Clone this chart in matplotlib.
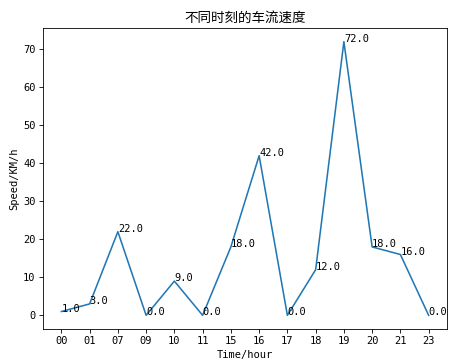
import matplotlib
matplotlib.use("Agg")
import matplotlib.pyplot as plt

plt.rcParams['font.family'] = ['DejaVu Sans Mono', 'Noto Sans CJK SC']
plt.rcParams['axes.unicode_minus'] = False

hours = ["00", "01", "07", "09", "10", "11", "15", "16", "17", "18", "19", "20", "21", "23"]
speeds = [1, 3, 22, 0, 9, 0, 18, 42, 0, 12, 72, 18, 16, 0]

fig = plt.figure(figsize=(474 / 75, 364 / 75), dpi=75)
ax = fig.add_axes([43 / 474, 1 - 329 / 364, (447 - 43) / 474, (329 - 28) / 364])

ax.plot(hours, speeds, color="#1f77b4")
for h, s in zip(hours, speeds):
    ax.text(h, s, "%.1f" % s)

ax.set_title("不同时刻的车流速度", family=['Noto Sans CJK SC', 'DejaVu Sans'], fontsize=13)
ax.set_xlabel("Time/hour")
ax.set_ylabel("Speed/KM/h")

fig.savefig("out.png", dpi=75)
